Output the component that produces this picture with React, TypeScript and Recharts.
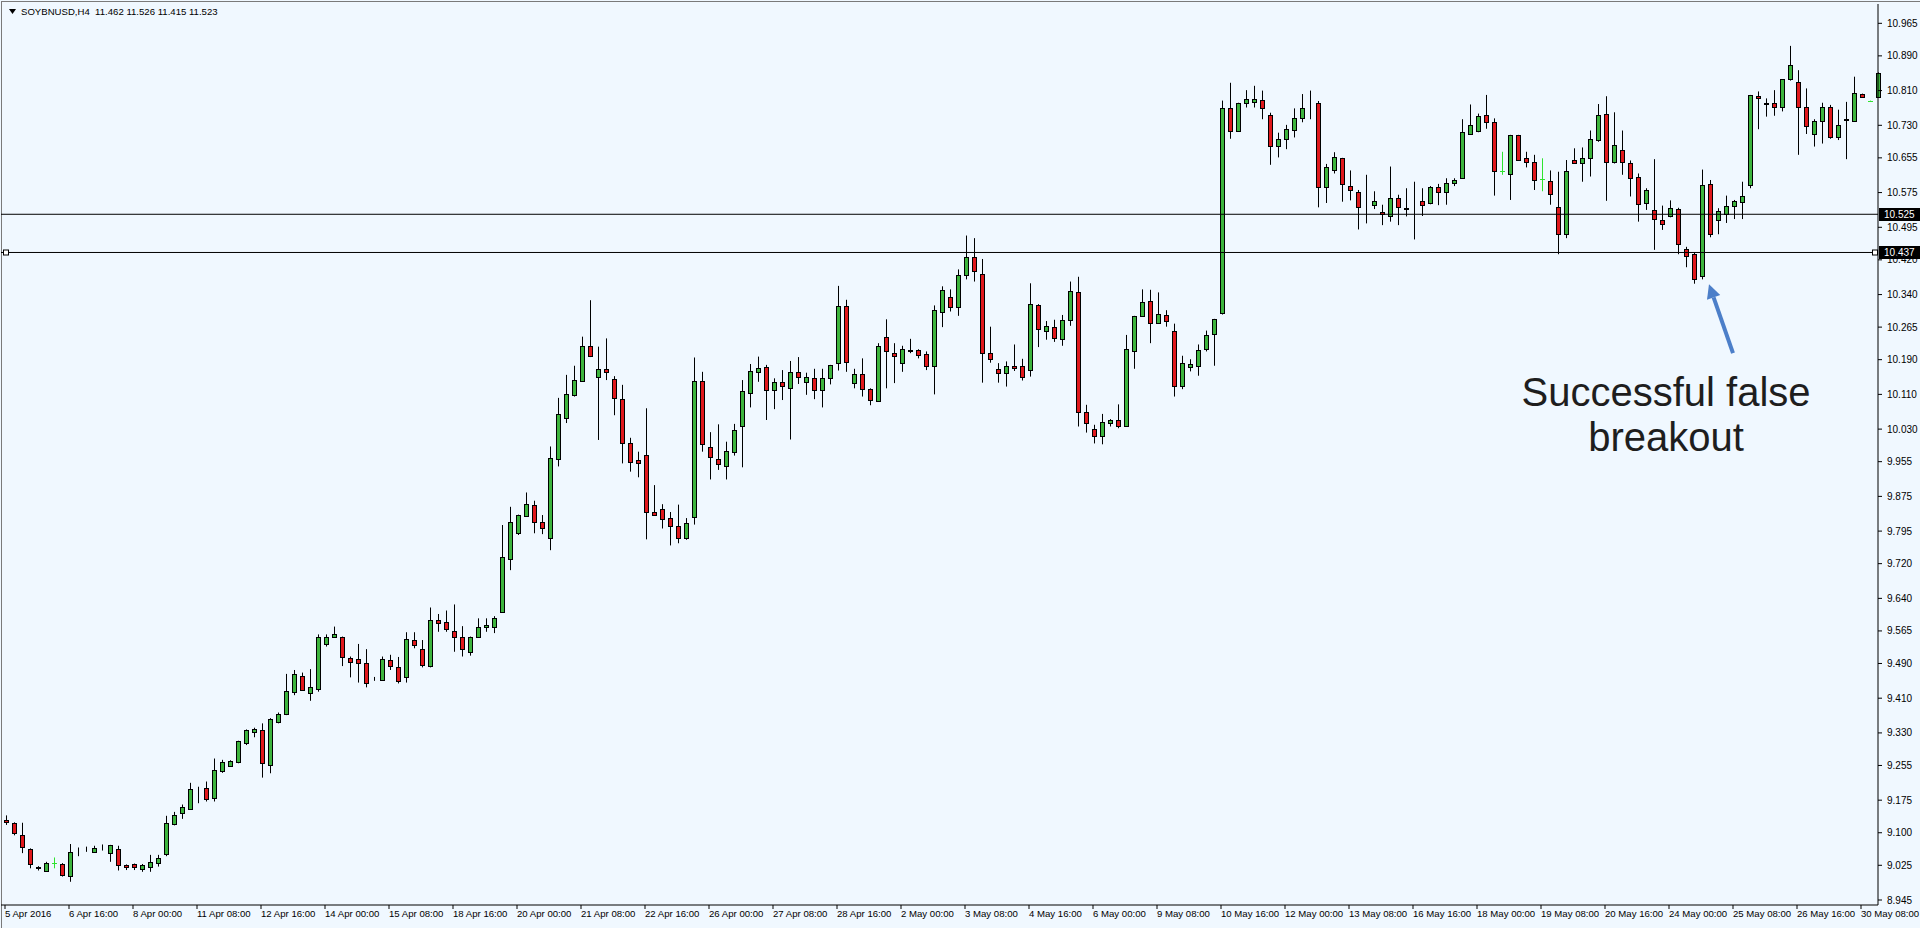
import React from "react";
import { ComposedChart, Bar, XAxis, YAxis, ReferenceLine } from "recharts";

// SOYBNUSD H4 candles (one value per bar)
const opens = [
  9.130, 9.122, 9.095, 9.062, 9.020, 9.011, 9.031, 9.029, 9.000, 9.060,
  9.062, 9.056, 9.060, 9.054, 9.063, 9.025, 9.027, 9.017, 9.021, 9.031,
  9.051, 9.119, 9.146, 9.155, 9.200, 9.202, 9.180, 9.242, 9.253, 9.263,
  9.307, 9.333, 9.336, 9.255, 9.356, 9.373, 9.424, 9.462, 9.423, 9.432,
  9.536, 9.552, 9.550, 9.502, 9.500, 9.490, 9.454, 9.453, 9.498, 9.483,
  9.458, 9.544, 9.523, 9.484, 9.590, 9.586, 9.565, 9.552, 9.517, 9.550,
  9.574, 9.574, 9.609, 9.730, 9.790, 9.830, 9.855, 9.815, 9.778, 9.962,
  10.055, 10.109, 10.142, 10.222, 10.151, 10.168, 10.145, 10.099, 9.999, 9.959,
  9.970, 9.838, 9.847, 9.826, 9.806, 9.778, 9.827, 10.141, 9.988, 9.962,
  9.946, 9.978, 10.038, 10.114, 10.162, 10.173, 10.121, 10.138, 10.124, 10.162,
  10.139, 10.147, 10.119, 10.147, 10.183, 10.314, 10.137, 10.158, 10.122, 10.094,
  10.243, 10.205, 10.183, 10.211, 10.213, 10.202, 10.175, 10.299, 10.334, 10.312,
  10.384, 10.426, 10.387, 10.205, 10.168, 10.159, 10.176, 10.176, 10.166, 10.316,
  10.257, 10.266, 10.237, 10.281, 10.345, 10.069, 10.030, 10.013, 10.044, 10.051,
  10.038, 10.211, 10.290, 10.326, 10.274, 10.293, 10.256, 10.130, 10.173, 10.176,
  10.214, 10.248, 10.297, 10.771, 10.717, 10.781, 10.784, 10.788, 10.754, 10.683,
  10.698, 10.720, 10.746, 10.770, 10.782, 10.588, 10.626, 10.654, 10.591, 10.577,
  10.549, 10.547, 10.530, 10.521, 10.563, 10.539, 10.557, 10.555, 10.550, 10.587,
  10.577, 10.598, 10.608, 10.710, 10.716, 10.754, 10.737, 10.625, 10.618, 10.708,
  10.654, 10.645, 10.606, 10.602, 10.541, 10.479, 10.650, 10.642, 10.654, 10.695,
  10.755, 10.646, 10.673, 10.642, 10.610, 10.550, 10.536, 10.512, 10.520, 10.538,
  10.445, 10.433, 10.383, 10.595, 10.512, 10.525, 10.545, 10.554, 10.593, 10.798,
  10.781, 10.781, 10.772, 10.836, 10.829, 10.772, 10.710, 10.739, 10.772, 10.702,
  10.744, 10.741, 10.801, 10.786, 10.796,
];

const highs = [
  9.140, 9.124, 9.123, 9.064, 9.023, 9.033, 9.043, 9.030, 9.074, 9.066,
  9.068, 9.070, 9.073, 9.072, 9.070, 9.027, 9.029, 9.028, 9.049, 9.049,
  9.139, 9.148, 9.165, 9.215, 9.206, 9.218, 9.271, 9.268, 9.267, 9.312,
  9.338, 9.342, 9.352, 9.364, 9.377, 9.466, 9.475, 9.469, 9.477, 9.557,
  9.557, 9.575, 9.552, 9.506, 9.535, 9.523, 9.459, 9.506, 9.510, 9.505,
  9.562, 9.562, 9.544, 9.619, 9.604, 9.612, 9.626, 9.576, 9.552, 9.594,
  9.594, 9.599, 9.809, 9.851, 9.833, 9.884, 9.865, 9.832, 9.990, 10.102,
  10.155, 10.176, 10.243, 10.327, 10.220, 10.239, 10.152, 10.132, 10.010, 9.978,
  10.078, 9.901, 9.857, 9.839, 9.856, 9.825, 10.195, 10.162, 10.023, 10.041,
  10.001, 10.042, 10.143, 10.180, 10.197, 10.178, 10.147, 10.166, 10.187, 10.196,
  10.160, 10.169, 10.169, 10.178, 10.360, 10.328, 10.169, 10.193, 10.124, 10.228,
  10.283, 10.228, 10.222, 10.238, 10.214, 10.209, 10.315, 10.359, 10.352, 10.398,
  10.476, 10.470, 10.422, 10.266, 10.182, 10.186, 10.225, 10.192, 10.366, 10.318,
  10.279, 10.282, 10.293, 10.370, 10.381, 10.086, 10.040, 10.065, 10.053, 10.087,
  10.247, 10.291, 10.352, 10.351, 10.345, 10.304, 10.273, 10.199, 10.191, 10.225,
  10.257, 10.284, 10.787, 10.828, 10.782, 10.811, 10.821, 10.810, 10.759, 10.713,
  10.731, 10.769, 10.802, 10.810, 10.786, 10.641, 10.668, 10.655, 10.626, 10.581,
  10.616, 10.578, 10.547, 10.635, 10.570, 10.585, 10.600, 10.585, 10.590, 10.595,
  10.608, 10.608, 10.744, 10.778, 10.757, 10.800, 10.746, 10.669, 10.708, 10.708,
  10.669, 10.662, 10.654, 10.626, 10.623, 10.650, 10.677, 10.679, 10.718, 10.779,
  10.797, 10.760, 10.718, 10.649, 10.619, 10.585, 10.652, 10.545, 10.557, 10.540,
  10.450, 10.436, 10.628, 10.604, 10.539, 10.568, 10.558, 10.600, 10.800, 10.808,
  10.792, 10.811, 10.836, 10.913, 10.857, 10.815, 10.744, 10.782, 10.777, 10.766,
  10.784, 10.842, 10.803, 10.787, 10.852,
];

const lows = [
  9.118, 9.094, 9.053, 9.018, 9.013, 9.010, 9.018, 8.999, 8.987, 9.046,
  9.056, 9.056, 9.059, 9.033, 9.013, 9.014, 9.014, 9.010, 9.010, 9.022,
  9.046, 9.117, 9.132, 9.154, 9.168, 9.172, 9.172, 9.238, 9.252, 9.260,
  9.302, 9.320, 9.227, 9.237, 9.352, 9.371, 9.417, 9.427, 9.404, 9.425,
  9.529, 9.551, 9.484, 9.458, 9.446, 9.435, 9.450, 9.452, 9.475, 9.444,
  9.446, 9.525, 9.481, 9.481, 9.563, 9.563, 9.517, 9.506, 9.508, 9.549,
  9.563, 9.560, 9.609, 9.705, 9.786, 9.829, 9.790, 9.788, 9.751, 9.944,
  10.044, 10.105, 10.142, 10.196, 10.005, 10.143, 10.062, 9.951, 9.932, 9.919,
  9.776, 9.830, 9.801, 9.762, 9.767, 9.775, 9.810, 9.978, 9.914, 9.936,
  9.914, 9.969, 9.942, 10.080, 10.139, 10.051, 10.076, 10.097, 10.006, 10.134,
  10.109, 10.099, 10.080, 10.133, 10.165, 10.162, 10.124, 10.105, 10.085, 10.094,
  10.124, 10.136, 10.162, 10.205, 10.193, 10.166, 10.110, 10.265, 10.301, 10.291,
  10.375, 10.370, 10.137, 10.183, 10.137, 10.128, 10.164, 10.142, 10.151, 10.219,
  10.236, 10.231, 10.222, 10.268, 10.036, 10.022, 9.997, 9.995, 10.036, 10.032,
  10.038, 10.169, 10.290, 10.228, 10.274, 10.266, 10.105, 10.122, 10.163, 10.153,
  10.209, 10.176, 10.294, 10.699, 10.717, 10.771, 10.771, 10.744, 10.639, 10.656,
  10.675, 10.702, 10.737, 10.744, 10.541, 10.551, 10.619, 10.554, 10.557, 10.490,
  10.504, 10.537, 10.500, 10.508, 10.500, 10.520, 10.467, 10.521, 10.548, 10.546,
  10.547, 10.590, 10.608, 10.708, 10.714, 10.722, 10.568, 10.616, 10.558, 10.649,
  10.633, 10.581, 10.578, 10.547, 10.433, 10.470, 10.641, 10.600, 10.612, 10.692,
  10.556, 10.642, 10.616, 10.566, 10.508, 10.535, 10.443, 10.489, 10.518, 10.433,
  10.403, 10.365, 10.375, 10.472, 10.479, 10.505, 10.514, 10.514, 10.585, 10.721,
  10.750, 10.752, 10.762, 10.833, 10.662, 10.710, 10.681, 10.688, 10.699, 10.696,
  10.652, 10.741, 10.796, 10.785, 10.795,
];

const closes = [
  9.125, 9.099, 9.066, 9.027, 9.018, 9.031, 9.031, 9.003, 9.055, 9.061,
  9.063, 9.065, 9.061, 9.071, 9.026, 9.020, 9.020, 9.026, 9.032, 9.042,
  9.122, 9.140, 9.159, 9.200, 9.201, 9.177, 9.244, 9.263, 9.265, 9.311,
  9.336, 9.340, 9.260, 9.362, 9.374, 9.427, 9.466, 9.429, 9.435, 9.550,
  9.550, 9.558, 9.504, 9.494, 9.492, 9.444, 9.455, 9.500, 9.485, 9.450,
  9.546, 9.533, 9.487, 9.590, 9.584, 9.569, 9.552, 9.523, 9.550, 9.573,
  9.579, 9.594, 9.736, 9.815, 9.832, 9.857, 9.817, 9.801, 9.963, 10.065,
  10.112, 10.143, 10.222, 10.199, 10.168, 10.161, 10.102, 9.999, 9.955, 9.953,
  9.840, 9.831, 9.824, 9.806, 9.780, 9.813, 10.141, 9.995, 9.966, 9.949,
  9.980, 10.028, 10.118, 10.165, 10.170, 10.120, 10.138, 10.130, 10.161, 10.151,
  10.149, 10.119, 10.147, 10.178, 10.314, 10.185, 10.158, 10.122, 10.096, 10.222,
  10.209, 10.198, 10.214, 10.212, 10.201, 10.176, 10.304, 10.350, 10.311, 10.385,
  10.427, 10.395, 10.205, 10.191, 10.159, 10.176, 10.170, 10.151, 10.318, 10.260,
  10.268, 10.239, 10.282, 10.348, 10.070, 10.043, 10.013, 10.046, 10.051, 10.038,
  10.215, 10.291, 10.322, 10.274, 10.295, 10.280, 10.130, 10.182, 10.180, 10.212,
  10.247, 10.284, 10.771, 10.717, 10.781, 10.790, 10.790, 10.771, 10.683, 10.698,
  10.721, 10.746, 10.771, 10.769, 10.589, 10.633, 10.656, 10.594, 10.581, 10.542,
  10.548, 10.555, 10.525, 10.562, 10.541, 10.538, 10.558, 10.546, 10.587, 10.577,
  10.597, 10.604, 10.714, 10.731, 10.751, 10.737, 10.624, 10.625, 10.708, 10.650,
  10.646, 10.603, 10.606, 10.572, 10.480, 10.625, 10.642, 10.654, 10.698, 10.754,
  10.646, 10.685, 10.646, 10.608, 10.549, 10.582, 10.513, 10.502, 10.539, 10.456,
  10.430, 10.375, 10.592, 10.479, 10.533, 10.544, 10.556, 10.566, 10.800, 10.792,
  10.780, 10.773, 10.836, 10.869, 10.772, 10.729, 10.740, 10.772, 10.704, 10.731,
  10.743, 10.804, 10.796, 10.786, 10.851,
];

// one time label every 8 bars
const dateLabels = [
  "5 Apr 2016", "6 Apr 16:00", "8 Apr 00:00", "11 Apr 08:00", "12 Apr 16:00",
  "14 Apr 00:00", "15 Apr 08:00", "18 Apr 16:00", "20 Apr 00:00", "21 Apr 08:00",
  "22 Apr 16:00", "26 Apr 00:00", "27 Apr 08:00", "28 Apr 16:00", "2 May 00:00",
  "3 May 08:00", "4 May 16:00", "6 May 00:00", "9 May 08:00", "10 May 16:00",
  "12 May 00:00", "13 May 08:00", "16 May 16:00", "18 May 00:00", "19 May 08:00",
  "20 May 16:00", "24 May 00:00", "25 May 08:00", "26 May 16:00", "30 May 08:00",
];
const LABEL_STEP = 8;

const priceTicks = [
  8.945, 9.025, 9.100, 9.175, 9.255, 9.330, 9.410, 9.490, 9.565, 9.640,
  9.720, 9.795, 9.875, 9.955, 10.030, 10.110, 10.190, 10.265, 10.340, 10.420,
  10.495, 10.575, 10.655, 10.730, 10.810, 10.890, 10.965,
];

const levels = [10.525, 10.437];
// arrow: from (bar, price) to (bar, price)
const arrowFrom = { bar: 216, price: 10.205 };
const arrowTo = { bar: 213, price: 10.364 };

const BG = "#f0f8ff";
const UP = "#3db43d";
const DOWN = "#e0181c";
const DOJI = "#2fe32f";
const FONT = "'Liberation Sans', Arial, sans-serif";

const candles = opens.map((open, i) => ({
  i,
  open,
  high: highs[i],
  low: lows[i],
  close: closes[i],
  range: [lows[i], highs[i]],
}));

function Candle(props: any) {
  const { x, y, width, height, payload } = props;
  if (x == null || y == null) return null;
  const { open, high, low, close } = payload;
  const top = Math.min(y, y + height);
  const bottom = Math.max(y, y + height);
  const k = high === low ? 0 : (bottom - top) / (high - low);
  const py = (v: number) => top + (high - v) * k;
  const cx = Math.round(x + width / 2);

  if (open === close) {
    const yy = Math.round(py(open)) + 0.5;
    return (
      <g>
        <line x1={cx + 0.5} x2={cx + 0.5} y1={top} y2={bottom} stroke={DOJI} />
        <line x1={cx - 2} x2={cx + 3} y1={yy} y2={yy} stroke={DOJI} />
      </g>
    );
  }
  const bTop = Math.round(Math.min(py(open), py(close))) + 0.5;
  const bBot = Math.round(Math.max(py(open), py(close))) + 0.5;
  return (
    <g>
      <line x1={cx + 0.5} x2={cx + 0.5} y1={top} y2={bottom} stroke="#000" />
      <rect
        x={cx - 1.5}
        y={bTop}
        width={4}
        height={Math.max(bBot - bTop, 0)}
        fill={close > open ? UP : DOWN}
        stroke="#000"
        strokeWidth={1}
      />
    </g>
  );
}

const DateTick = ({ x, y, payload }: any) => (
  <text x={x} y={y + 6} fontSize={9.6} fontFamily={FONT} fill="#000" textAnchor="start">
    {dateLabels[payload.value / LABEL_STEP]}
  </text>
);

const PriceTick = ({ x, y, payload }: any) => (
  <text x={x + 3} y={y + 3.5} fontSize={10} fontFamily={FONT} fill="#000" textAnchor="start">
    {payload.value.toFixed(3)}
  </text>
);

const levelLabel = (value: number, squares: boolean) => (p: any) => {
  const vb = p.viewBox || {};
  const ly = Math.round(vb.y) + 0.5;
  const right = 1878;
  return (
    <g>
      {squares && (
        <>
          <rect x={3.5} y={ly - 2.5} width={5} height={5} fill="#fff" stroke="#000" />
          <rect x={right - 5.5} y={ly - 2.5} width={5} height={5} fill="#fff" stroke="#000" />
        </>
      )}
      <rect x={right + 1} y={ly - 6.5} width={41} height={13} fill="#000" />
      <text x={right + 6} y={ly + 3.5} fontSize={10} fontFamily={FONT} fill="#fff">
        {value.toFixed(3)}
      </text>
    </g>
  );
};

const ArrowShape = (p: any) => {
  const { x1, y1, x2, y2 } = p;
  const dx = x2 - x1;
  const dy = y2 - y1;
  const len = Math.hypot(dx, dy) || 1;
  const ux = dx / len;
  const uy = dy / len;
  const hl = 14;
  const hw = 7;
  const bx = x2 - ux * hl;
  const by = y2 - uy * hl;
  return (
    <g>
      <line x1={x1} y1={y1} x2={bx} y2={by} stroke="#4c7fc9" strokeWidth={4} />
      <polygon
        points={`${x2},${y2} ${bx - uy * hw},${by + ux * hw} ${bx + uy * hw},${by - ux * hw}`}
        fill="#4c7fc9"
      />
    </g>
  );
};

const noteStyle: React.CSSProperties = {
  position: "absolute",
  left: 1416,
  width: 500,
  textAlign: "center",
  fontFamily: FONT,
  fontSize: 40,
  lineHeight: "45px",
  color: "#1e1e1e",
  whiteSpace: "nowrap",
};

export default function App() {
  const ticksX = dateLabels.map((_, k) => k * LABEL_STEP);
  return (
    <div
      style={{
        position: "absolute",
        left: 0,
        top: 0,
        width: 1920,
        height: 928,
        background: BG,
        overflow: "hidden",
      }}
    >
      <div
        style={{
          position: "absolute",
          left: 1,
          top: 1,
          width: 1919,
          height: 927,
          borderTop: "1px solid #7a7a7a",
          borderLeft: "1px solid #7a7a7a",
          boxSizing: "border-box",
        }}
      />
      <ComposedChart
        width={1920}
        height={928}
        data={candles}
        margin={{ top: 4, right: 0, bottom: 0, left: 1 }}
        style={{ position: "absolute", left: 0, top: 0 }}
      >
        <XAxis
          dataKey="i"
          type="category"
          ticks={ticksX}
          interval={0}
          height={23}
          padding={{ left: 0, right: -3 }}
          axisLine={{ stroke: "#000" }}
          tickLine={{ stroke: "#000" }}
          tickSize={4}
          tick={<DateTick />}
        />
        <YAxis
          orientation="right"
          type="number"
          domain={[8.9335, 11.0095]}
          allowDataOverflow
          ticks={priceTicks}
          interval={0}
          width={42}
          axisLine={{ stroke: "#000" }}
          tickLine={{ stroke: "#000" }}
          tickSize={4}
          tick={<PriceTick />}
        />
        <Bar dataKey="range" barSize={5} shape={<Candle />} isAnimationActive={false} />
        <ReferenceLine
          y={levels[0]}
          stroke="#000"
          ifOverflow="visible"
          label={levelLabel(levels[0], false)}
        />
        <ReferenceLine
          y={levels[1]}
          stroke="#000"
          ifOverflow="visible"
          label={levelLabel(levels[1], true)}
        />
        <ReferenceLine
          segment={[
            { x: arrowFrom.bar, y: arrowFrom.price },
            { x: arrowTo.bar, y: arrowTo.price },
          ]}
          ifOverflow="visible"
          shape={ArrowShape}
        />
      </ComposedChart>

      <div
        style={{
          position: "absolute",
          left: 9,
          top: 6,
          fontFamily: FONT,
          fontSize: 9.6,
          color: "#000",
          whiteSpace: "pre",
          display: "flex",
          alignItems: "center",
        }}
      >
        <svg width={8} height={6} style={{ marginRight: 4 }}>
          <polygon points="0,0 7,0 3.5,5" fill="#000" />
        </svg>
        {"SOYBNUSD,H4  11.462 11.526 11.415 11.523"}
      </div>

      <div style={{ ...noteStyle, top: 370 }}>Successful false</div>
      <div style={{ ...noteStyle, top: 415 }}>breakout</div>
    </div>
  );
}
